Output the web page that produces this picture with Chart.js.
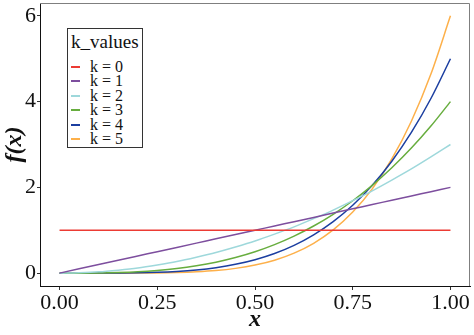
<!DOCTYPE html>
<html>
<head>
<meta charset="utf-8">
<script src="https://cdn.jsdelivr.net/npm/chart.js@4.4.1/dist/chart.umd.min.js"></script>
<style>
  html, body { margin: 0; padding: 0; background: #fff; }
  #wrap { position: relative; width: 474px; height: 335px; }
  #legend {
    position: absolute; left: 67px; top: 28px; width: 74px; height: 118px;
    border: 1px solid #333; background: #fff;
    font-family: "Liberation Serif", serif; color: #111;
  }
  #legend .title { position: absolute; left: 3px; top: 3px; font-size: 19px; line-height: 20px; }
  #legend .row { position: absolute; left: 0; height: 14px; font-size: 16px; line-height: 14px; }
  #legend .key { position: absolute; left: 3px; top: 6px; width: 9px; height: 2px; }
  #legend .lab { position: absolute; left: 22px; top: 0; white-space: nowrap; }
</style>
</head>
<body>
<div id="wrap">
  <canvas id="chart" width="474" height="335"></canvas>
  <div id="legend"></div>
</div>
<script>
// valores
var xValues = [0, 0.05, 0.1, 0.15, 0.2, 0.25, 0.3, 0.35, 0.4, 0.45, 0.5,
               0.55, 0.6, 0.65, 0.7, 0.75, 0.8, 0.85, 0.9, 0.95, 1];
var k0 = [1, 1, 1, 1, 1, 1, 1, 1, 1, 1, 1, 1, 1, 1, 1, 1, 1, 1, 1, 1, 1];
var k1 = [0, 0.1, 0.2, 0.3, 0.4, 0.5, 0.6, 0.7, 0.8, 0.9, 1,
          1.1, 1.2, 1.3, 1.4, 1.5, 1.6, 1.7, 1.8, 1.9, 2];
var k2 = [0, 0.01, 0.03, 0.07, 0.12, 0.19, 0.27, 0.37, 0.48, 0.61, 0.75,
          0.91, 1.08, 1.27, 1.47, 1.69, 1.92, 2.17, 2.43, 2.71, 3];
var k3 = [0, 0, 0.004, 0.014, 0.032, 0.063, 0.108, 0.172, 0.256, 0.365, 0.5,
          0.666, 0.864, 1.099, 1.372, 1.688, 2.048, 2.457, 2.916, 3.43, 4];
var k4 = [0, 0, 0.001, 0.003, 0.008, 0.02, 0.041, 0.075, 0.128, 0.205, 0.313,
          0.458, 0.648, 0.893, 1.2, 1.582, 2.048, 2.61, 3.281, 4.073, 5];
var k5 = [0, 0, 0, 0, 0.002, 0.006, 0.015, 0.032, 0.061, 0.111, 0.188,
          0.302, 0.467, 0.696, 1.008, 1.424, 1.966, 2.662, 3.543, 4.643, 6];
var seriesLabels = ['k = 0', 'k = 1', 'k = 2', 'k = 3', 'k = 4', 'k = 5'];
var seriesColors = ['#EC3B34', '#7D4E9E', '#9ED8DB', '#67AD3E', '#1B3EA0', '#FDB04A'];
var xTicks = [0, 0.25, 0.5, 0.75, 1];
var yTicks = [0, 2, 4, 6];
var legendTitle = 'k_values';

var serif = '"Liberation Serif", "Times New Roman", serif';
var allSeries = [k0, k1, k2, k3, k4, k5];

var datasets = [];
for (var i = 0; i < allSeries.length; i++) {
    var pts = [];
    for (var j = 0; j < xValues.length; j++) {
        pts.push({x: xValues[j], y: allSeries[i][j]});
    }
    datasets.push({
        label: seriesLabels[i],
        data: pts,
        borderColor: seriesColors[i],
        borderWidth: 1.5,
        pointRadius: 0,
        cubicInterpolationMode: 'monotone',
        fill: false
    });
}

var panelBorder = {
    id: 'panelBorder',
    afterDraw: function (chart) {
        var a = chart.chartArea, ctx = chart.ctx;
        ctx.save();
        ctx.strokeStyle = '#7f7f7f';
        ctx.lineWidth = 1;
        ctx.beginPath();
        ctx.moveTo(a.left, a.top + 0.5);
        ctx.lineTo(a.right - 0.5, a.top + 0.5);
        ctx.lineTo(a.right - 0.5, a.bottom);
        ctx.stroke();
        ctx.restore();
    }
};

new Chart(document.getElementById('chart'), {
    type: 'line',
    data: {datasets: datasets},
    plugins: [panelBorder],
    options: {
        responsive: false,
        animation: false,
        layout: {padding: {left: 0, right: 4, top: 3, bottom: 0}},
        plugins: {legend: {display: false}, tooltip: {enabled: false}},
        scales: {
            x: {
                type: 'linear',
                min: -0.05,
                max: 1.05,
                afterBuildTicks: function (axis) {
                    axis.ticks = xTicks.map(function (v) { return {value: v}; });
                },
                afterFit: function (axis) {
                    axis.height = 49;
                    axis.paddingLeft = 0;
                    axis.paddingRight = 0;
                },
                ticks: {
                    font: {family: serif, size: 22},
                    color: '#111',
                    padding: 0,
                    maxRotation: 0,
                    callback: function (v) { return v.toFixed(2); }
                },
                grid: {drawOnChartArea: false, tickLength: 4, color: '#333'},
                border: {color: '#111', width: 1},
                title: {
                    display: true, text: 'x', color: '#111',
                    font: {family: serif, size: 24, style: 'italic', weight: 'bold'},
                    padding: {top: 0, bottom: 1}
                }
            },
            y: {
                type: 'linear',
                min: -0.3,
                max: 6.3,
                afterBuildTicks: function (axis) {
                    axis.ticks = yTicks.map(function (v) { return {value: v}; });
                },
                afterFit: function (axis) {
                    axis.width = 40;
                    axis.paddingTop = 0;
                    axis.paddingBottom = 0;
                },
                ticks: {
                    font: {family: serif, size: 22},
                    color: '#111',
                    padding: 1
                },
                grid: {drawOnChartArea: false, tickLength: 3, color: '#333'},
                border: {color: '#111', width: 1},
                title: {
                    display: true, text: 'f(x)', color: '#111',
                    font: {family: serif, size: 24, style: 'italic', weight: 'bold'},
                    padding: {top: 0, bottom: 0}
                }
            }
        }
    }
});

// legenda dentro do painel
var legend = document.getElementById('legend');
var t = document.createElement('div');
t.className = 'title';
t.textContent = legendTitle;
legend.appendChild(t);
for (var n = 0; n < seriesLabels.length; n++) {
    var row = document.createElement('div');
    row.className = 'row';
    row.style.top = (31 + n * 14.4) + 'px';
    var key = document.createElement('div');
    key.className = 'key';
    key.style.background = seriesColors[n];
    var lab = document.createElement('div');
    lab.className = 'lab';
    lab.textContent = seriesLabels[n];
    row.appendChild(key);
    row.appendChild(lab);
    legend.appendChild(row);
}
</script>
</body>
</html>
